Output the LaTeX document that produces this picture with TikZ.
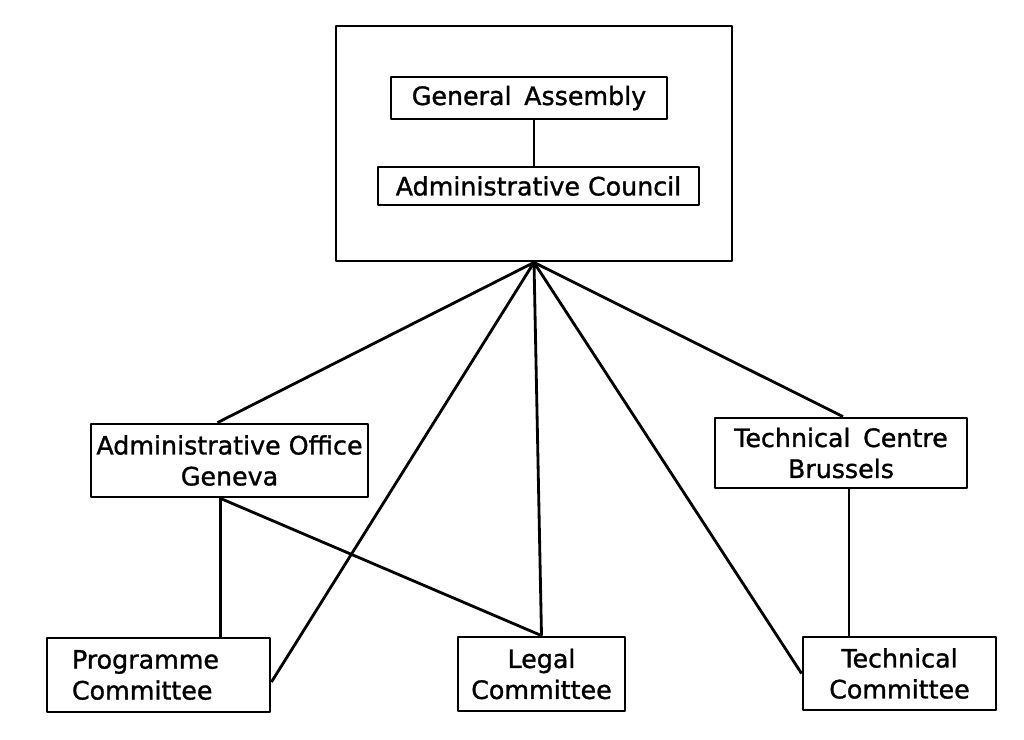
\documentclass[tikz,border=0pt]{standalone}
\usepackage{fontspec}
\setmainfont{DejaVu Sans}[FakeBold=1.2]
\usetikzlibrary{calc}
\begin{document}
\begin{tikzpicture}[x=0.025cm,y=-0.025cm,line width=2pt,line join=round,
    every node/.style={font=\fontsize{18}{22}\selectfont,inner sep=0pt,align=center},
    box/.style 2 args={draw,minimum width=#1,minimum height=#2}]
    \useasboundingbox (0,0) rectangle (1024,739);
    \node[box={9.9cm}{5.875cm}] (board) at (534,143.5) {};
    \node[box={6.9cm}{1.05cm}] (assembly) at (529,98) {General\enspace Assembly};
    \node[box={8.025cm}{0.95cm}] (council) at (538.5,186) {Administrative Council};
    \node[box={6.925cm}{1.825cm}] (office) at (229.5,460.5) {Administrative Office\\Geneva};
    \node[box={6.3cm}{1.75cm}] (centre) at (841,453) {Technical\enspace Centre\\Brussels};
    \node[box={5.575cm}{1.85cm},text width=4.325cm,inner xsep=0.625cm,align=left] (programme) at (158.5,675) {Programme\\Committee};
    \node[box={4.175cm}{1.85cm}] (legal) at (541.5,674) {Legal\\Committee};
    \node[box={4.825cm}{1.825cm}] (technical) at (899.5,673.5) {Technical\\Committee};
    \coordinate (apex) at (board.south);
    \draw (assembly.south -| apex) -- (council.north -| apex);
    \draw ($(office.north)+(-12,0)$) -- (apex) -- ($(programme.east)+(0,7)$);
    \draw (legal.north) -- (apex) -- (technical.west);
    \draw (apex) -- ($(centre.north)+(2,0)$);
    \draw ($(office.south)+(-9,0)$) coordinate (ao) -- (ao |- programme.north);
    \draw (ao) -- (legal.north);
    \draw ($(centre.south)+(8,0)$) coordinate (cb) -- (cb |- technical.north);
\end{tikzpicture}
\end{document}
